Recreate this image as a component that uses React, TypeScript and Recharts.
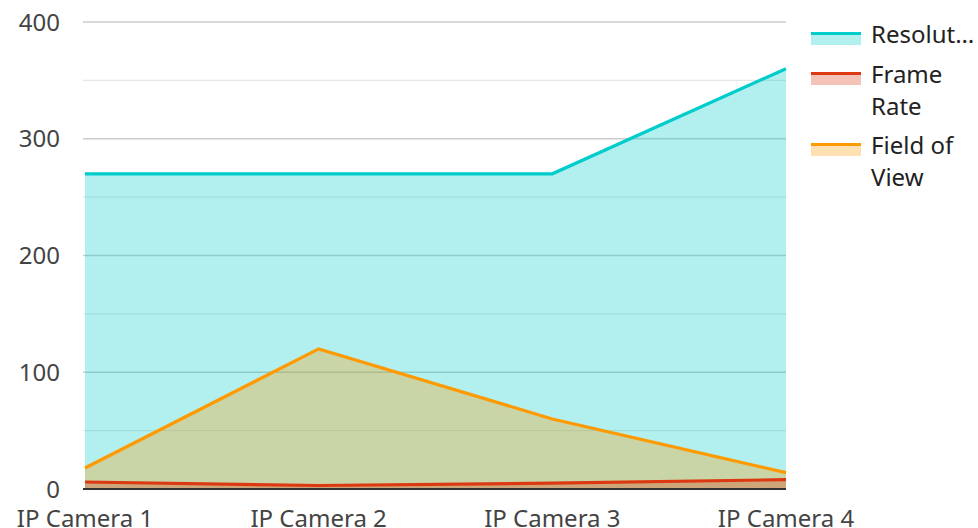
import React from 'react';
import { AreaChart, Area, XAxis, YAxis, CartesianGrid, Legend } from 'recharts';

const categories = ['IP Camera 1', 'IP Camera 2', 'IP Camera 3', 'IP Camera 4'];
const resolution = [270, 270, 270, 360];
const frameRate = [6, 3, 5, 8];
const fieldOfView = [18, 120, 60, 14];
const yTicks = [0, 100, 200, 300, 400];
const minorTicks = [50, 150, 250, 350];

const seriesInfo = [
  { key: 'Resolution', label: 'Resolut…', color: '#00CCCC' },
  { key: 'Frame Rate', label: 'Frame Rate', color: '#DC3912' },
  { key: 'Field of View', label: 'Field of View', color: '#FF9900' },
];

const data = categories.map((c, i) => ({
  name: c,
  Resolution: resolution[i],
  'Frame Rate': frameRate[i],
  'Field of View': fieldOfView[i],
}));

const FONT = '"Noto Sans", "Open Sans", sans-serif';

const LegendContent = () => (
  <div style={{ fontFamily: FONT, fontSize: 24, lineHeight: '32px', color: '#222' }}>
    {seriesInfo.map((s) => (
      <div key={s.key} style={{ display: 'flex', alignItems: 'flex-start', marginBottom: 7.5 }}>
        <svg width={50} height={13} style={{ marginTop: 14, flex: '0 0 auto' }}>
          <rect x={0} y={0} width={50} height={3} fill={s.color} />
          <rect x={0} y={3} width={50} height={10} fill={s.color} fillOpacity={0.3} />
        </svg>
        <div style={{ marginLeft: 10, width: 107 }}>{s.label}</div>
      </div>
    ))}
  </div>
);

export default function App() {
  return (
    <div style={{ position: 'absolute', left: 0, top: 0, fontFamily: FONT }}>
      <AreaChart width={978} height={528} data={data} margin={{ top: 22, right: 192, bottom: 0, left: 0 }}>
        <CartesianGrid vertical={false} stroke="#e6e6e6" strokeWidth={1.3} horizontalValues={minorTicks} />
        <CartesianGrid vertical={false} stroke="#cccccc" strokeWidth={1.3} />
        <XAxis
          dataKey="name"
          height={39}
          padding={{ left: 2, right: 0 }}
          tickLine={false}
          axisLine={{ stroke: '#333', strokeWidth: 2 }}
          tickMargin={15}
          tick={{ fill: '#444', fontSize: 24, fontFamily: FONT }}
          interval={0}
        />
        <YAxis
          width={83}
          domain={[0, 400]}
          ticks={yTicks}
          tickLine={false}
          axisLine={false}
          tickMargin={17}
          tick={{ fill: '#444', fontSize: 24, fontFamily: FONT }}
        />
        <Area type="linear" dataKey="Resolution" stroke="#00CCCC" strokeWidth={3.2} fill="#00CCCC" fillOpacity={0.3} isAnimationActive={false} dot={false} activeDot={false} />
        <Area type="linear" dataKey="Field of View" stroke="#FF9900" strokeWidth={3.2} fill="#FF9900" fillOpacity={0.3} isAnimationActive={false} dot={false} activeDot={false} />
        <Area type="linear" dataKey="Frame Rate" stroke="#DC3912" strokeWidth={3.2} fill="#DC3912" fillOpacity={0.3} isAnimationActive={false} dot={false} activeDot={false} />
        <Legend
          layout="vertical"
          align="center"
          verticalAlign="middle"
          content={<LegendContent />}
          wrapperStyle={{ position: 'absolute', left: 811, top: 18, width: 167 }}
        />
      </AreaChart>
    </div>
  );
}
